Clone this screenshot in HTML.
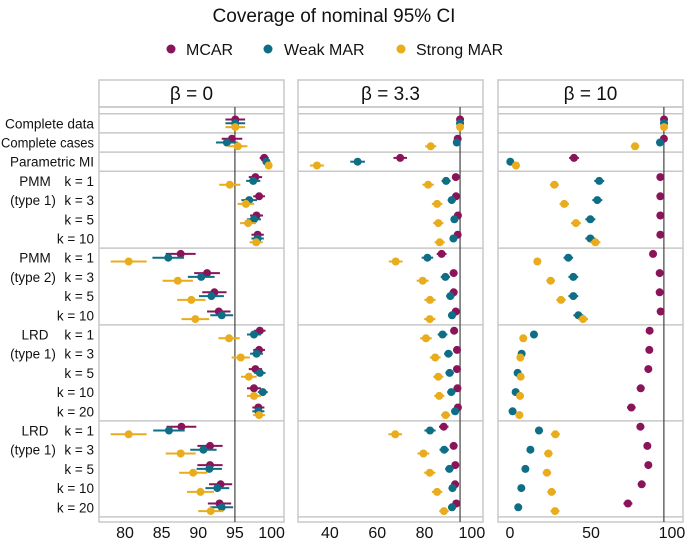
<!DOCTYPE html>
<html><head><meta charset="utf-8"><style>
body{margin:0;background:#fff;width:685px;height:540px;overflow:hidden;font-family:"Liberation Sans","DejaVu Sans",sans-serif}
svg text{font-family:"Liberation Sans","DejaVu Sans",sans-serif}
</style></head><body>
<svg id="chart" width="685" height="540" viewBox="0 0 685 540" xmlns="http://www.w3.org/2000/svg">
<text x="334" y="22" font-size="19" text-anchor="middle" fill="#111">Coverage of nominal 95% CI</text>
<g>
<circle cx="171" cy="49" r="4.5" fill="#8a1459"/>
<text x="186" y="55" font-size="16" fill="#111">MCAR</text>
<circle cx="268" cy="49" r="4.5" fill="#0d6e86"/>
<text x="284" y="55" font-size="16" fill="#111">Weak MAR</text>
<circle cx="401" cy="49" r="4.5" fill="#e9ac1c"/>
<text x="416" y="55" font-size="16" fill="#111">Strong MAR</text>
</g>
</svg>
<script>
const rowLabels=["Complete data","Complete cases","Parametric MI","k = 1","k = 3","k = 5","k = 10","k = 1","k = 3","k = 5","k = 10","k = 1","k = 3","k = 5","k = 10","k = 20","k = 1","k = 3","k = 5","k = 10","k = 20"];
const groupNames=[["PMM","(type 1)",3],["PMM","(type 2)",7],["LRD","(type 1)",11],["LRD","(type 1)",16]];
const panelTitles=["β = 0","β = 3.3","β = 10"];
const ticks0=[80,85,90,95,100];
const ticks1=[40,60,80,100];
const ticks2=[0,50,100];
const mcar0=[95.05,94.6,99.0,97.8,98.3,97.95,98.1,87.6,91.2,92.2,92.8,98.4,98.3,97.8,97.6,98.2,87.7,91.6,91.6,93.05,92.9];
const weak0=[95.05,93.9,99.3,97.5,96.95,97.6,98.1,85.9,90.4,91.8,93.2,97.6,97.95,98.4,98.8,98.2,86.0,90.7,91.5,92.6,93.2];
const strong0=[95.05,95.4,99.6,94.3,96.5,96.8,97.9,80.5,87.2,89.05,89.6,94.2,95.8,96.9,97.6,98.3,80.5,87.6,89.3,90.3,91.7];
const mcar1=[95.0,94.0,69.7,93.2,93.3,94.1,94.0,87.2,92.3,92.3,93.2,92.5,93.7,93.7,93.9,94.1,88.1,92.3,93.0,92.9,93.4];
const weak1=[95.0,93.6,51.7,89.1,91.5,92.6,92.2,81.2,88.8,90.9,91.6,87.6,90.1,90.6,91.3,92.9,82.3,88.3,90.5,91.8,91.6];
const strong1=[95.0,82.6,34.5,81.5,85.3,85.8,86.4,67.8,79.2,82.3,82.2,80.6,84.5,85.8,86.2,88.9,67.6,79.5,82.2,85.3,88.2];
const mcar2=[95.1,95.0,39.5,92.8,92.8,92.8,92.8,88.3,92.4,92.4,93.0,86.2,86.0,85.4,80.7,74.9,80.5,84.8,85.4,81.3,72.8];
const weak2=[95.1,92.6,0.2,55.1,53.9,49.6,49.6,36.0,39.1,39.1,42.2,14.8,7.2,4.7,3.5,1.6,17.9,12.6,9.5,7.0,5.1];
const strong2=[95.1,77.2,3.7,27.4,33.5,40.7,52.7,16.9,25.1,31.5,45.1,8.2,6.4,6.6,6.2,5.8,28.0,23.7,22.8,25.7,27.8];

const NS="http://www.w3.org/2000/svg";
const svg=document.getElementById('chart');
function mk(tag,attrs,parent){const e=document.createElementNS(NS,tag);for(const k in attrs)e.setAttribute(k,attrs[k]);(parent||svg).appendChild(e);return e;}
const panels=[
 {x0:99,x1:284,d0:76.45,d1:101.7,ticks:ticks0,series:[mcar0,weak0,strong0]},
 {x0:298,x1:483,d0:26.5,d1:104.7,ticks:ticks1,series:[mcar1,weak1,strong1]},
 {x0:498,x1:683,d0:-7.4,d1:106.8,ticks:ticks2,series:[mcar2,weak2,strong2]}
];
const colors=["#8a1459","#0d6e86","#e9ac1c"];
const names=["mcar","weak-mar","strong-mar"];
const offs=[-3.8,0,3.8];
const rowY=i=>123.3+19.2*i;
const bottomY=522, topBody=107, headTop=80;
const dividers=[-1,0,1,2,6,10,15,20];
panels.forEach((p,pi)=>{
  const xs=v=>p.x0+(v-p.d0)/(p.d1-p.d0)*(p.x1-p.x0);
  const g=mk('g',{});
  
  
  const hd=mk('rect',{x:p.x0,y:headTop,width:p.x1-p.x0,height:topBody-headTop,fill:'#fff',stroke:'#c8c8c8','stroke-width':1.5},g);
  
  
  const ht=mk('text',{x:(p.x0+p.x1)/2,y:100,'font-size':19,'text-anchor':'middle',fill:'#111'},g);
  ht.textContent=panelTitles[pi];
  
  
  const fr=mk('rect',{x:p.x0,y:topBody,width:p.x1-p.x0,height:bottomY-topBody,fill:'none',stroke:'#c8c8c8','stroke-width':1.5},g);
  
  
  dividers.forEach(d=>{
    const y=rowY(d)+9.6;
    const l=mk('line',{x1:p.x0,x2:p.x1,y1:y,y2:y,stroke:'#c8c8c8','stroke-width':1.5},g);
    
    
  });
  const rl=mk('line',{x1:xs(95),x2:xs(95),y1:topBody,y2:bottomY,stroke:'#444','stroke-width':1.2},g);
  
  
  p.ticks.forEach(t=>{
    const tt=mk('text',{x:xs(t),y:538,'font-size':16,'text-anchor':'middle',fill:'#111'},g);
    tt.textContent=t;
    
    
  });
  p.series.forEach((s,si)=>{
    s.forEach((v,i)=>{
      const y=rowY(i)+offs[si];
      const h=1.96*Math.sqrt(Math.max(v,0.5)*(100-Math.min(v,99.5))/1000);
      const ci=mk('line',{x1:xs(v-h),x2:xs(v+h),y1:y,y2:y,stroke:colors[si],'stroke-width':2},g);
      
      
      const c=mk('circle',{cx:xs(v),cy:y,r:4,fill:colors[si]},g);
      
      
    });
  });
});
const fitLen={0:89,1:93,2:84};
rowLabels.forEach((t,i)=>{
  const attrs={x:94,y:rowY(i)+5,'font-size':13.5,'text-anchor':'end',fill:'#111'};
  if(fitLen[i]){attrs.textLength=fitLen[i];attrs.lengthAdjust='spacingAndGlyphs';}
  const e=mk('text',attrs);
  e.textContent=t;
  
  
});
groupNames.forEach(gn=>{
  const a=mk('text',{x:35,y:rowY(gn[2])+5,'font-size':13.5,'text-anchor':'middle',fill:'#111'});
  a.textContent=gn[0];
  
  
  const b=mk('text',{x:33,y:rowY(gn[2]+1)+5,'font-size':13.5,'text-anchor':'middle',fill:'#111'});
  b.textContent=gn[1];
  
  
});
</script>
</body></html>
